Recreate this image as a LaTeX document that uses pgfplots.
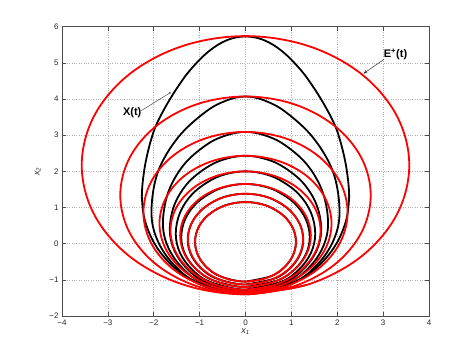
\documentclass[border=0pt]{standalone}
\usepackage{pgfplots}
\pgfplotsset{compat=1.18}
\usetikzlibrary{arrows.meta}
\usepackage{fontspec}
\setmainfont{Liberation Sans}
\begin{document}
\begin{tikzpicture}[x=1pt,y=1pt]
\path[use as bounding box] (0,0) rectangle (474,355);
\begin{axis}[
  at={(62pt,39pt)}, anchor=south west,
  scale only axis, width=367pt, height=289.3pt,
  xmin=-4, xmax=4, ymin=-2, ymax=6,
  xtick={-4,-3,-2,-1,0,1,2,3,4}, ytick={-2,-1,0,1,2,3,4,5,6},
  xticklabels={−4,−3,−2,−1,0,1,2,3,4},
  yticklabels={−2,−1,0,1,2,3,4,5,6},
  tick align=inside, major tick length=4pt,
  grid=major, grid style={dotted, gray!60, line width=0.5pt},
  axis line style={black!70, line width=0.6pt},
  tick style={black!70, line width=0.5pt},
  ticklabel style={font=\fontsize{8}{9}\selectfont, text=black!85},
  xlabel={\itshape x\textsubscript{1}}, ylabel={\itshape x\textsubscript{2}},
  label style={font=\fontsize{9}{10}\selectfont, text=black!85},
  xlabel style={at={(axis description cs:0.5,-0.055)}, anchor=center},
  ylabel style={at={(axis description cs:-0.066,0.5)}, anchor=center},
  every axis plot/.append style={smooth, tension=0.6, line width=1.8pt},
]
% X(t) curves
\addplot[black] coordinates {(0,-1.40) (0.6,-1.30) (1.1,-1.06) (1.5,-0.72) (1.8,-0.33) (2.0,0.04) (2.13,0.40) (2.22,0.79) (2.26,1.3) (2.253,1.52) (2.23,1.82) (2.185,2.2) (2.12,2.58) (2.04,2.95) (1.94,3.3) (1.75,3.77) (1.5,4.29) (1.2,4.81) (0.8,5.32) (0.4,5.63) (0,5.73) (-0.4,5.63) (-0.8,5.32) (-1.2,4.81) (-1.5,4.29) (-1.75,3.77) (-1.94,3.3) (-2.04,2.95) (-2.12,2.58) (-2.185,2.2) (-2.23,1.82) (-2.253,1.52) (-2.26,1.3) (-2.22,0.79) (-2.13,0.40) (-2.0,0.04) (-1.8,-0.33) (-1.5,-0.72) (-1.1,-1.06) (-0.6,-1.30) (0,-1.40) (0.6,-1.30)};
\addplot[black] coordinates {(0,-1.39) (1.025,-1.083) (1.570,-0.572) (1.927,0.117) (2.05,0.9) (1.909,1.984) (1.47,2.938) (0.87,3.645) (0.41,3.962) (0,4.07) (-0.41,3.962) (-0.87,3.645) (-1.47,2.938) (-1.909,1.984) (-2.05,0.9) (-1.927,0.117) (-1.570,-0.572) (-1.025,-1.083) (0,-1.39) (1.025,-1.083)};
\addplot[black] coordinates {(0,-1.36) (0.9,-1.10) (1.379,-0.667) (1.692,-0.083) (1.80,0.58) (1.679,1.438) (1.336,2.194) (0.828,2.754) (0.396,3.005) (0,3.09) (-0.396,3.005) (-0.828,2.754) (-1.336,2.194) (-1.679,1.438) (-1.80,0.58) (-1.692,-0.083) (-1.379,-0.667) (-0.9,-1.10) (0,-1.36) (0.9,-1.10)};
\addplot[black] coordinates {(0,-1.32) (0.825,-1.09) (1.264,-0.706) (1.551,-0.188) (1.65,0.40) (1.543,1.094) (1.238,1.705) (0.780,2.158) (0.383,2.361) (0,2.43) (-0.383,2.361) (-0.780,2.158) (-1.238,1.705) (-1.543,1.094) (-1.65,0.40) (-1.551,-0.188) (-1.264,-0.706) (-0.825,-1.09) (0,-1.32) (0.825,-1.09)};
\addplot[black] coordinates {(0,-1.27) (0.76,-1.062) (1.164,-0.717) (1.429,-0.25) (1.52,0.28) (1.424,0.868) (1.149,1.386) (0.734,1.77) (0.368,1.942) (0,2.0) (-0.368,1.942) (-0.734,1.77) (-1.149,1.386) (-1.424,0.868) (-1.52,0.28) (-1.429,-0.25) (-1.164,-0.717) (-0.76,-1.062) (0,-1.27) (0.76,-1.062)};
\addplot[black] coordinates {(0,-1.20) (0.70,-1.015) (1.072,-0.707) (1.316,-0.292) (1.40,0.18) (1.313,0.683) (1.064,1.125) (0.683,1.453) (0.346,1.60) (0,1.65) (-0.346,1.60) (-0.683,1.453) (-1.064,1.125) (-1.313,0.683) (-1.40,0.18) (-1.316,-0.292) (-1.072,-0.707) (-0.70,-1.015) (0,-1.20) (0.70,-1.015)};
\addplot[black] coordinates {(0,-1.13) (0.63,-0.964) (0.965,-0.687) (1.184,-0.314) (1.26,0.11) (1.183,0.544) (0.963,0.927) (0.626,1.21) (0.323,1.337) (0,1.38) (-0.323,1.337) (-0.626,1.21) (-0.963,0.927) (-1.183,0.544) (-1.26,0.11) (-1.184,-0.314) (-0.965,-0.687) (-0.63,-0.964) (0,-1.13) (0.63,-0.964)};
\addplot[black] coordinates {(0,-1.05) (0.55,-0.903) (0.843,-0.657) (1.034,-0.326) (1.10,0.05) (1.034,0.426) (0.843,0.757) (0.55,1.003) (0.285,1.113) (0,1.15) (-0.285,1.113) (-0.55,1.003) (-0.843,0.757) (-1.034,0.426) (-1.10,0.05) (-1.034,-0.326) (-0.843,-0.657) (-0.55,-0.903) (0,-1.05) (0.55,-0.903)};
% E+(t) ellipses
\addplot[red] coordinates {(0,-1.40) (1.366,-1.128) (2.524,-0.354) (3.298,0.804) (3.57,2.17) (3.298,3.536) (2.524,4.694) (1.366,5.468) (0,5.74) (-1.366,5.468) (-2.524,4.694) (-3.298,3.536) (-3.57,2.17) (-3.298,0.804) (-2.524,-0.354) (-1.366,-1.128) (0,-1.40) (1.366,-1.128)};
\addplot[red] coordinates {(0,-1.39) (1.045,-1.182) (1.930,-0.59) (2.522,0.295) (2.73,1.34) (2.522,2.385) (1.930,3.27) (1.045,3.862) (0,4.07) (-1.045,3.862) (-1.930,3.27) (-2.522,2.385) (-2.73,1.34) (-2.522,0.295) (-1.930,-0.59) (-1.045,-1.182) (0,-1.39) (1.045,-1.182)};
\addplot[red] coordinates {(0,-1.36) (0.851,-1.191) (1.573,-0.708) (2.056,0.014) (2.225,0.865) (2.056,1.716) (1.573,2.438) (0.851,2.921) (0,3.09) (-0.851,2.921) (-1.573,2.438) (-2.056,1.716) (-2.225,0.865) (-2.056,0.014) (-1.573,-0.708) (-0.851,-1.191) (0,-1.36) (0.851,-1.191)};
\addplot[red] coordinates {(0,-1.32) (0.718,-1.177) (1.326,-0.771) (1.732,-0.163) (1.875,0.555) (1.732,1.273) (1.326,1.881) (0.718,2.287) (0,2.43) (-0.718,2.287) (-1.326,1.881) (-1.732,1.273) (-1.875,0.555) (-1.732,-0.163) (-1.326,-0.771) (-0.718,-1.177) (0,-1.32) (0.718,-1.177)};
\addplot[red] coordinates {(0,-1.27) (0.626,-1.146) (1.156,-0.791) (1.511,-0.261) (1.635,0.365) (1.511,0.991) (1.156,1.521) (0.626,1.876) (0,2.0) (-0.626,1.876) (-1.156,1.521) (-1.511,0.991) (-1.635,0.365) (-1.511,-0.261) (-1.156,-0.791) (-0.626,-1.146) (0,-1.27) (0.626,-1.146)};
\addplot[red] coordinates {(0,-1.2) (0.545,-1.092) (1.008,-0.783) (1.317,-0.32) (1.425,0.225) (1.317,0.77) (1.008,1.233) (0.545,1.542) (0,1.65) (-0.545,1.542) (-1.008,1.233) (-1.317,0.77) (-1.425,0.225) (-1.317,-0.32) (-1.008,-0.783) (-0.545,-1.092) (0,-1.2) (0.545,-1.092)};
\addplot[red] coordinates {(0,-1.13) (0.48,-1.034) (0.887,-0.762) (1.159,-0.355) (1.255,0.125) (1.159,0.605) (0.887,1.012) (0.48,1.284) (0,1.38) (-0.48,1.284) (-0.887,1.012) (-1.159,0.605) (-1.255,0.125) (-1.159,-0.355) (-0.887,-0.762) (-0.48,-1.034) (0,-1.13) (0.48,-1.034)};
\addplot[red] coordinates {(0,-1.05) (0.421,-0.966) (0.778,-0.728) (1.016,-0.371) (1.10,0.05) (1.016,0.471) (0.778,0.828) (0.421,1.066) (0,1.15) (-0.421,1.066) (-0.778,0.828) (-1.016,0.471) (-1.10,0.05) (-1.016,-0.371) (-0.778,-0.728) (-0.421,-0.966) (0,-1.05) (0.421,-0.966)};
% annotations
\draw[black!70, line width=0.5pt, -{Stealth[length=2.5pt,width=2pt]}] (axis cs:-2.27,3.68) -- (axis cs:-1.62,4.19);
\node[font=\fontsize{11}{13}\selectfont\bfseries, inner sep=0pt] at (axis cs:-2.47,3.63) {X(t)};
\draw[black!80, line width=0.5pt, -{Stealth[length=4pt,width=3pt]}] (axis cs:3.02,5.10) -- (axis cs:2.57,4.70);
\node[font=\fontsize{11}{13}\selectfont\bfseries, inner sep=0pt] at (axis cs:3.27,5.24) {E\textsuperscript{+}(t)};
\end{axis}
\end{tikzpicture}
\end{document}
